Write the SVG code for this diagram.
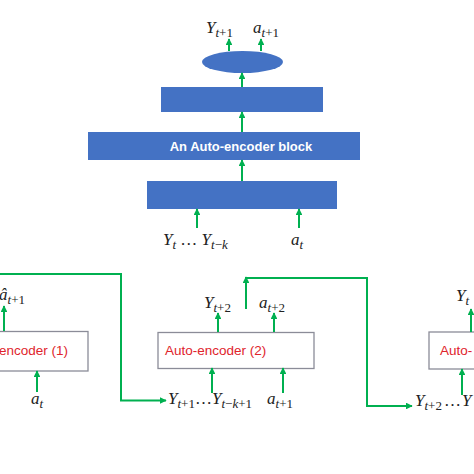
<svg xmlns="http://www.w3.org/2000/svg" width="474" height="474" viewBox="0 0 474 474">
<defs>
<marker id="ah" viewBox="0 0 10 10" refX="9" refY="5" markerWidth="3.6" markerHeight="3.4" orient="auto" markerUnits="strokeWidth">
<path d="M0,0 L10,5 L0,10 z" fill="#00b050"/>
</marker>
</defs>
<style>
.blue{fill:#4472c4;}
.box{fill:#ffffff;stroke:#8b8c98;stroke-width:1.3;}
.ga{stroke:#00b050;stroke-width:2;fill:none;marker-end:url(#ah);}
.m{font-family:"Liberation Serif","DejaVu Serif",serif;font-style:italic;font-size:17px;fill:#222;}
.s{font-size:13px;}
.u{font-style:normal;}
.title{font-family:"Liberation Sans",Arial,sans-serif;font-weight:bold;font-size:13px;fill:#ffffff;}
.red{font-family:"Liberation Sans",Arial,sans-serif;font-size:13.5px;fill:#e0242c;}
</style>
<rect width="474" height="474" fill="#ffffff"/>

<g id="block-ellipse"><ellipse class="blue" cx="242.5" cy="62" rx="40.5" ry="11"/></g>
<g id="block-layer2"><rect class="blue" x="161" y="87" width="162" height="25"/></g>
<g id="block-main"><rect class="blue" x="88" y="132" width="272" height="28"/>
<text class="title" x="241" y="151" text-anchor="middle">An Auto-encoder block</text></g>
<g id="block-layer0"><rect class="blue" x="147" y="181" width="190" height="28"/></g>

<g id="ae1"><rect class="box" x="-10" y="331.5" width="98" height="39.5"/>
<text class="red" x="68" y="355" text-anchor="end">encoder (1)</text></g>
<g id="ae2"><rect class="box" x="158" y="332.5" width="156" height="36"/>
<text class="red" x="165" y="355">Auto-encoder (2)</text></g>
<g id="ae3"><rect class="box" x="429" y="332" width="60" height="37"/>
<text class="red" x="440" y="355">Auto-</text></g>

<g id="labels">
<text class="m" x="206" y="33">Y<tspan class="s" dy="4">t<tspan class="u">+1</tspan></tspan></text>
<text class="m" x="253" y="33">a<tspan class="s" dy="4">t<tspan class="u">+1</tspan></tspan></text>
<text class="m" x="163" y="245">Y<tspan class="s" dy="4">t</tspan><tspan dy="-4" class="u"> … </tspan>Y<tspan class="s" dy="4">t<tspan class="u">−</tspan>k</tspan></text>
<text class="m" x="291" y="245">a<tspan class="s" dy="4">t</tspan></text>
<text class="m" x="-1" y="300">â<tspan class="s" dy="4">t<tspan class="u">+1</tspan></tspan></text>
<text class="m" x="31" y="404">a<tspan class="s" dy="4">t</tspan></text>
<text class="m" x="204" y="308">Y<tspan class="s" dy="4">t<tspan class="u">+2</tspan></tspan></text>
<text class="m" x="259" y="308">a<tspan class="s" dy="4">t<tspan class="u">+2</tspan></tspan></text>
<text class="m" x="168" y="404">Y<tspan class="s" dy="4">t<tspan class="u">+1</tspan></tspan><tspan dy="-4" class="u">…</tspan>Y<tspan class="s" dy="4">t<tspan class="u">−</tspan>k<tspan class="u">+1</tspan></tspan></text>
<text class="m" x="267" y="404">a<tspan class="s" dy="4">t<tspan class="u">+1</tspan></tspan></text>
<text class="m" x="456" y="301">Y<tspan class="s" dy="4">t</tspan></text>
<text class="m" x="415" y="406">Y<tspan class="s" dy="4">t<tspan class="u">+2</tspan></tspan><tspan dy="-4" dx="2" class="u">…</tspan><tspan dx="1">Y</tspan></text>
</g>

<g id="connectors">
<line class="ga" x1="229" y1="51" x2="229" y2="39"/>
<line class="ga" x1="261" y1="51" x2="261" y2="39"/>
<line class="ga" x1="242" y1="87" x2="242" y2="73"/>
<line class="ga" x1="242" y1="132" x2="242" y2="112"/>
<line class="ga" x1="242" y1="181" x2="242" y2="160"/>
<line class="ga" x1="197" y1="228" x2="197" y2="209"/>
<line class="ga" x1="299" y1="228" x2="299" y2="209"/>
<line class="ga" x1="4" y1="331" x2="4" y2="306"/>
<line class="ga" x1="37" y1="392" x2="37" y2="371"/>
<polyline class="ga" points="0,274 121,274 121,400.5 166,400.5"/>
<line class="ga" x1="218" y1="332" x2="218" y2="313"/>
<line class="ga" x1="274" y1="332" x2="274" y2="313"/>
<line class="ga" x1="212" y1="393" x2="212" y2="368"/>
<line class="ga" x1="283" y1="393" x2="283" y2="368"/>
<line class="ga" x1="246" y1="309" x2="246" y2="277"/>
<polyline class="ga" points="246,278 367,278 367,406 412,406"/>
<line class="ga" x1="471" y1="332" x2="471" y2="309"/>
<line class="ga" x1="462" y1="395" x2="462" y2="369"/>
</g>
</svg>
